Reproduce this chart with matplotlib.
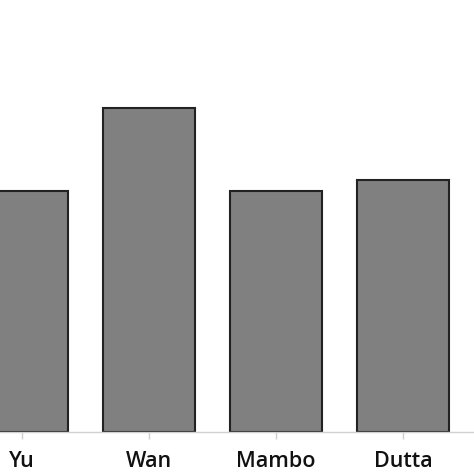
import matplotlib
matplotlib.use('Agg')
import matplotlib.pyplot as plt

# bar heights (no y axis shown, so relative units)
authors = ["Yu", "Wan", "Mambo", "Dutta"]
values = [241, 324, 241, 252]

fig = plt.figure(figsize=(4.74, 4.74), dpi=100)
ax = fig.add_axes([0, 42 / 474, 1, 432 / 474])

x = list(range(len(authors)))
ax.bar(x, values, width=0.72, color="#808080", edgecolor="#222222", linewidth=1.5)

ax.set_xlim(-0.173, 3.559)
ax.set_ylim(0, 432)
ax.set_xticks(x)
ax.set_xticklabels(authors, fontsize=15.5, color="#111111", family="Open Sans",
                   weight="semibold")
ax.tick_params(axis="x", length=5, width=1, color="#d0d0d0", pad=9)
ax.set_yticks([])
for side in ["top", "left", "right"]:
    ax.spines[side].set_visible(False)
ax.spines["bottom"].set_color("#d0d0d0")
ax.spines["bottom"].set_linewidth(1)

fig.savefig("out.png", dpi=100)
